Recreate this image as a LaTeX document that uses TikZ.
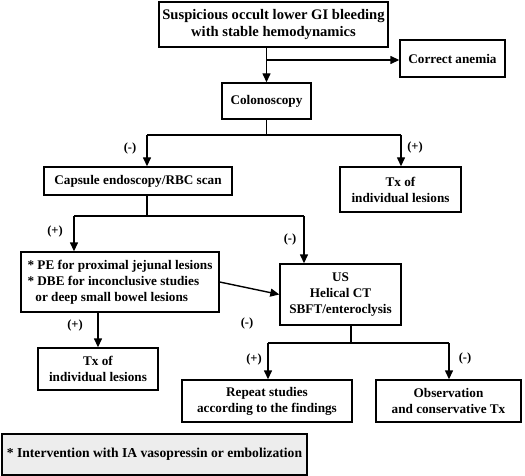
\documentclass[tikz,border=0pt]{standalone}
\usepackage{fontspec}
\setmainfont{Liberation Serif}
\usetikzlibrary{arrows.meta,calc}
\begin{document}
\begin{tikzpicture}[x=1pt,y=-1pt,
  box/.style={draw,line width=1.4pt,inner sep=1pt,align=center,font=\bfseries\fontsize{13.2}{16}\selectfont},
  lbl/.style={font=\bfseries\fontsize{12.5}{14}\selectfont,inner sep=0pt},
  arr/.style={line width=1.4pt,-{Triangle[length=9pt,width=8pt]}},
  ln/.style={line width=1.4pt}]
\useasboundingbox (0,0) rectangle (525,476);
\node[box,minimum width=229pt,minimum height=45pt,font=\bfseries\fontsize{14.6}{17}\selectfont] (top) at (273.5,24.5) {Suspicious occult lower GI bleeding\\with stable hemodynamics};
\node[box,minimum width=105pt,minimum height=37pt] (anemia) at (452.5,58.5) {Correct anemia};
\node[box,minimum width=89pt,minimum height=36pt] (col) at (266.5,101) {Colonoscopy};
\node[box,minimum width=188pt,minimum height=28pt] (cap) at (138,181) {Capsule endoscopy/RBC scan};
\node[box,minimum width=121pt,minimum height=45pt] (tx1) at (400.5,189.5) {Tx of\\individual lesions};
\node[box,minimum width=198pt,minimum height=60pt,align=left] (pe) at (120,282) {* PE for proximal jejunal lesions\\* DBE for inconclusive studies\\\hspace*{0.6em}or deep small bowel lesions};
\node[box,minimum width=121pt,minimum height=61pt] (us) at (340.5,294.5) {US\\Helical CT\\SBFT/enteroclysis};
\node[box,minimum width=120pt,minimum height=42pt] (tx2) at (98,369) {Tx of\\individual lesions};
\node[box,minimum width=170pt,minimum height=42pt] (rep) at (267,401) {Repeat studies\\according to the findings};
\node[box,minimum width=145pt,minimum height=42pt] (obs) at (448.5,401) {Observation\\and conservative Tx};
\node[box,minimum width=305pt,minimum height=41pt,fill=black!7,font=\bfseries\fontsize{13.6}{16}\selectfont] (int) at (154.5,454.5) {* Intervention with IA vasopressin or embolization};
% connectors
\coordinate (b1) at (266.5,60);
\draw[arr] (top.south -| col.north) -- (col.north);
\draw[arr] (b1) -- (anemia.west |- b1);
\coordinate (s1) at (266.5,135);
\coordinate (c1) at (147,135);
\coordinate (c2) at (401,135);
\draw[ln] (col.south) -- (s1);
\draw[ln] (c1) -- (c2);
\draw[arr] (c1) -- (c1 |- cap.north);
\draw[arr] (c2) -- (c2 |- tx1.north);
\coordinate (s2) at (147,216);
\coordinate (d1) at (74,216);
\coordinate (d2) at (304,216);
\draw[ln] (s2 |- cap.south) -- (s2);
\draw[ln] (d1) -- (d2);
\draw[arr] (d1) -- (d1 |- pe.north);
\draw[arr] (d2) -- (d2 |- us.north);
\draw[arr] (pe.east) -- (us.west);
\coordinate (e1) at (98,330);
\draw[arr] (e1 |- pe.south) -- (e1 |- tx2.north);
\coordinate (s3) at (351,343);
\coordinate (f1) at (268,343);
\coordinate (f2) at (449,343);
\draw[ln] (s3 |- us.south) -- (s3);
\draw[ln] (f1) -- (f2);
\draw[arr] (f1) -- (f1 |- rep.north);
\draw[arr] (f2) -- (f2 |- obs.north);
% labels
\node[lbl] (l1) at (130,148) {(-)};
\node[lbl] (l2) at (415,147) {(+)};
\node[lbl] (l3) at (55,231) {(+)};
\node[lbl] (l4) at (290,239) {(-)};
\node[lbl] (l5) at (75,325) {(+)};
\node[lbl] (l6) at (247,323) {(-)};
\node[lbl] (l7) at (254,359) {(+)};
\node[lbl] (l8) at (465,358) {(-)};
\end{tikzpicture}
\end{document}
